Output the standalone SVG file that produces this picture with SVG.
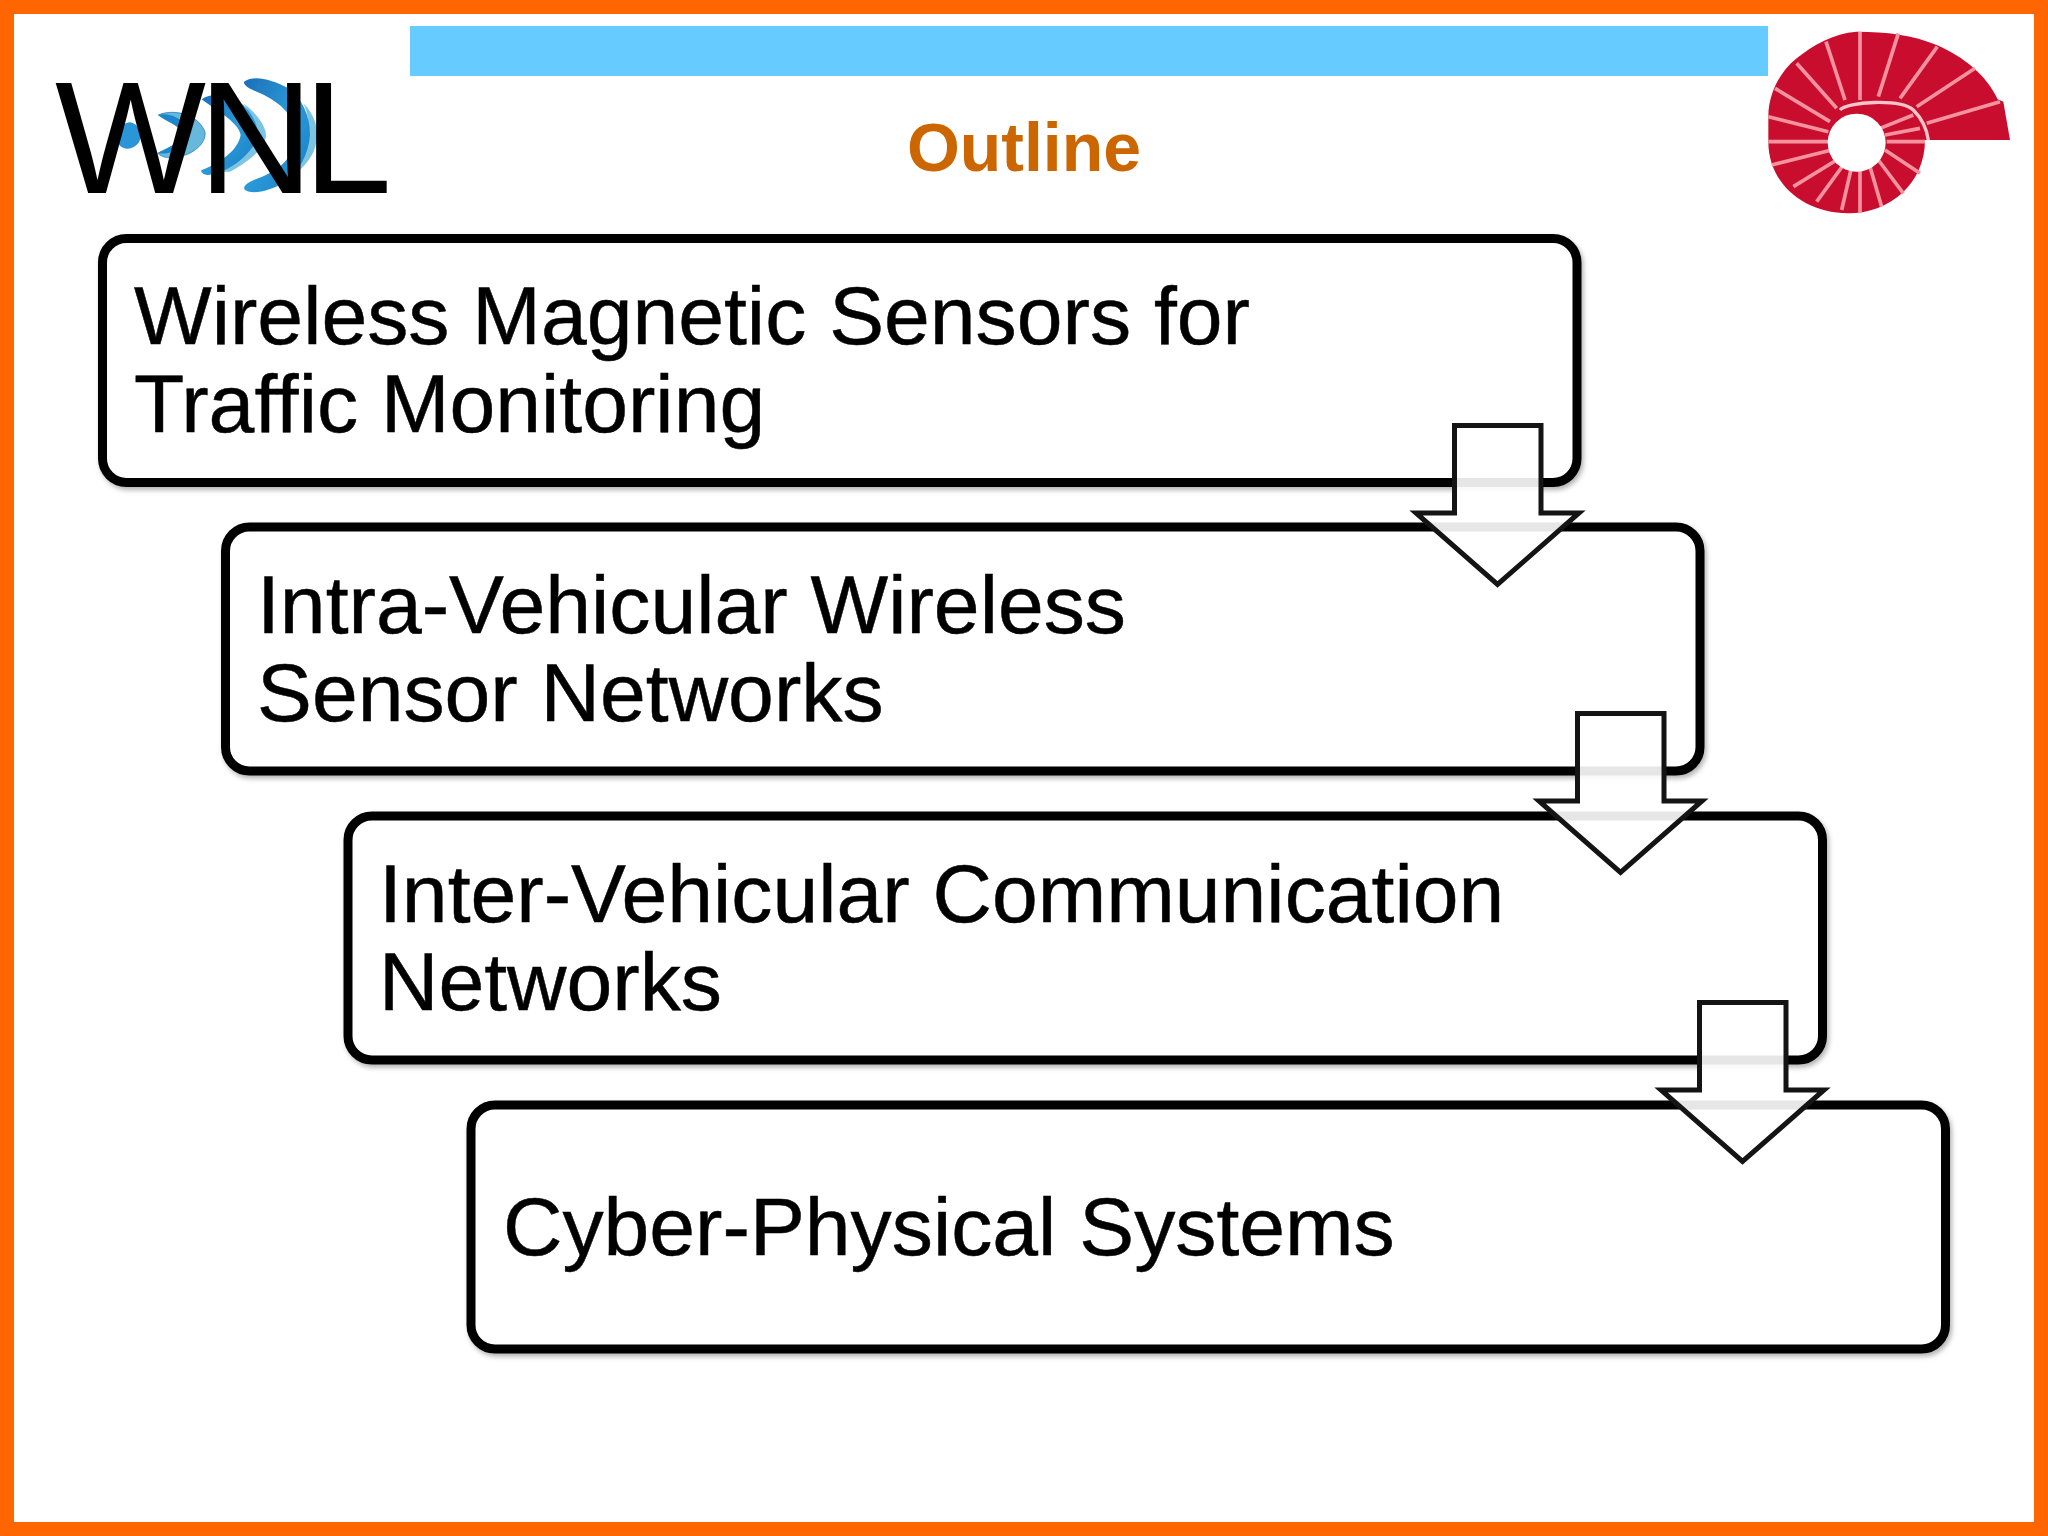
<svg xmlns="http://www.w3.org/2000/svg" width="2048" height="1536" viewBox="0 0 2048 1536">
<defs>
<filter id="soft" x="-5%" y="-5%" width="110%" height="110%"><feGaussianBlur stdDeviation="0.7"/></filter>
<filter id="shadow" x="-3%" y="-5%" width="106%" height="115%"><feDropShadow dx="2" dy="3" stdDeviation="2.5" flood-color="#000" flood-opacity="0.3"/></filter>
<linearGradient id="sw" x1="0" y1="0" x2="1" y2="1"><stop offset="0" stop-color="#1c6fb8"/><stop offset="0.5" stop-color="#2a9ad8"/><stop offset="1" stop-color="#1b7cc4"/></linearGradient>
</defs>
<style>
.box{fill:#fff;stroke:#000;stroke-width:9}
.lbl{font-family:"Liberation Sans",Arial,sans-serif;font-size:82.300px;fill:#000;stroke:#000;stroke-width:.5}
.arrow{fill:#fff;fill-opacity:.9;stroke:#141414;stroke-width:5;stroke-miterlimit:10}
.wnl{font-family:"Liberation Sans",Arial,sans-serif;font-size:160px;fill:#000}
.ray{stroke:#f4939f;stroke-width:11;fill:none}
</style>
<rect width="2048" height="1536" fill="#fff"/>
<g id="frame"><rect x="7" y="7" width="2034" height="1522" fill="none" stroke="#ff6600" stroke-width="14"/></g>
<g id="title-bar"><rect x="410" y="26" width="1358" height="50" fill="#66ccff"/></g>
<g id="title"><text x="1024" y="171" text-anchor="middle" font-family="'Liberation Sans',Arial,sans-serif" font-weight="700" font-size="68" fill="#cc6600">Outline</text></g>
<g id="logo-wnl">
<g transform="scale(0.33333)" filter="url(#soft)">
<path d="M350,412C352,385 375,366 392,367C415,372 424,395 422,412C420,432 400,447 380,446C362,445 350,430 350,412Z" fill="#2b96d8"/>
<path d="M475,345C510,328 590,335 615,395C620,430 580,465 525,473C505,475 485,472 473,460C500,445 545,430 548,400C540,375 500,365 475,345Z" fill="#66b8dc" stroke="#1b6fae" stroke-width="2"/>
<path d="M475,345C515,335 565,365 568,405C565,440 520,465 473,460C500,445 545,430 548,400C540,375 500,365 475,345Z" fill="#1f86cc"/>
<path d="M730,310C770,340 800,380 798,410C790,450 740,490 690,515L650,515C700,490 760,450 760,405C755,370 750,335 730,310Z" fill="#7cc4e2"/>
<path d="M605,298C640,275 690,285 730,315C765,350 778,385 770,420C745,470 690,515 625,525C610,525 600,515 605,510C660,490 715,450 722,405C715,365 645,330 605,298Z" fill="url(#sw)"/>
<path d="M910,310C945,345 955,385 950,420C945,465 915,500 880,525L860,520C905,490 925,450 925,405C925,370 925,340 910,310Z" fill="#7cc4e2"/>
<path d="M732,245C760,225 810,235 865,265C905,295 930,345 930,405C925,465 900,510 850,550C810,572 760,585 735,570C725,560 745,545 775,535C840,510 885,470 888,405C885,340 830,300 770,275C745,265 730,255 732,245Z" fill="url(#sw)"/>
</g>
<text class="wnl" x="55 198 303" y="193">WNL</text>
</g>
<g id="logo-emblem" transform="translate(1700,0) scale(0.33333)">
<g filter="url(#soft)">
<path d="M930,420L910,305L893,298C860,225 790,170 710,135C640,105 560,95 470,95C400,100 340,135 290,175C240,215 205,280 205,350V425C205,550 310,640 445,640C570,640 675,550 675,420Z" fill="#c8102e"/>
<g class="ray">
<path d="M480,95V300M595,100L535,290M712,140L600,295M825,205L650,320M900,305L680,370"/>
<path d="M378,125L435,300M290,190L410,325M225,265L390,365M205,350L385,395M205,425H385M215,495L395,450M280,560L410,480M350,605L430,495M425,630L455,500M480,640V500M545,620L510,500M610,580L535,480M660,520L555,450M675,425H560M660,385L555,405M640,345L540,385"/>
</g>
<path d="M420,330C440,305 600,295 640,330C665,355 680,385 685,420" fill="none" stroke="#f7c5cb" stroke-width="10"/>
<circle cx="470" cy="428" r="87" fill="#fff"/>
</g>
</g>
<g id="node-1"><rect class="box" x="102.500" y="238.500" width="1474.500" height="244" rx="24" filter="url(#shadow)"/>
<text class="lbl" x="134" y="344">Wireless Magnetic Sensors for</text><text class="lbl" x="134" y="432">Traffic Monitoring</text></g>
<g id="node-2"><rect class="box" x="225.500" y="527" width="1474.500" height="244" rx="24" filter="url(#shadow)"/>
<text class="lbl" x="257" y="633">Intra-Vehicular Wireless</text><text class="lbl" x="257" y="721">Sensor Networks</text></g>
<g id="node-3"><rect class="box" x="348" y="816" width="1474.500" height="244" rx="24" filter="url(#shadow)"/>
<text class="lbl" x="379" y="922">Inter-Vehicular Communication</text><text class="lbl" x="379" y="1010">Networks</text></g>
<g id="node-4"><rect class="box" x="471" y="1105" width="1474.500" height="244" rx="24" filter="url(#shadow)"/>
<text class="lbl" x="503" y="1255">Cyber-Physical Systems</text></g>
<g id="connectors">
<path id="arrow-1" class="arrow" d="M1454.500,425.500H1541V513H1579L1497.500,584.500L1416,513H1454.500Z"/>
<path id="arrow-2" class="arrow" d="M1454.500,425.500H1541V513H1579L1497.500,584.500L1416,513H1454.500Z" transform="translate(123,288)"/>
<path id="arrow-3" class="arrow" d="M1454.500,425.500H1541V513H1579L1497.500,584.500L1416,513H1454.500Z" transform="translate(245,577)"/>
</g>
</svg>
